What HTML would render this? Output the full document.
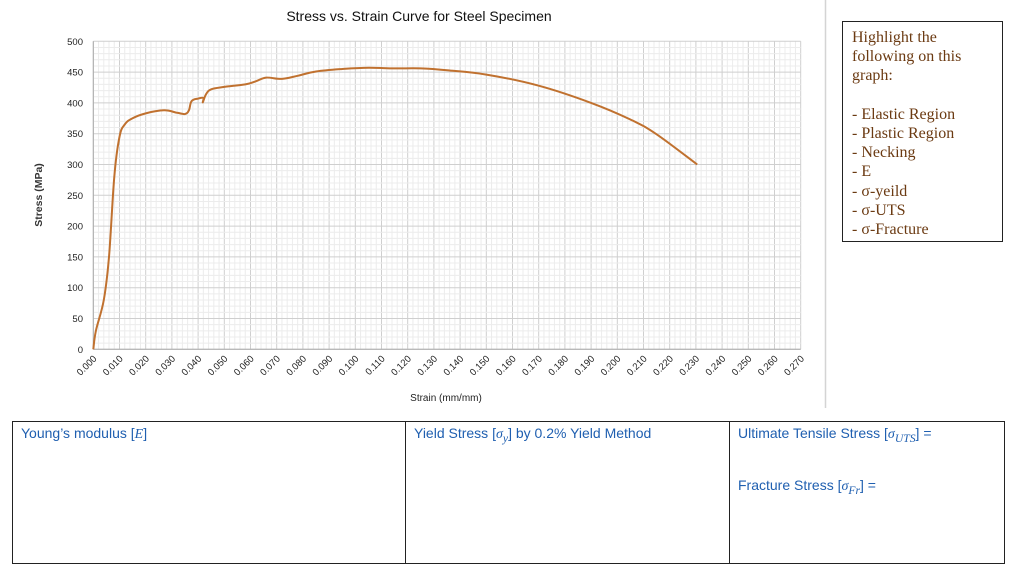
<!DOCTYPE html>
<html><head><meta charset="utf-8"><style>
body{margin:0;width:1024px;height:584px;background:#fff;overflow:hidden;position:relative;font-family:"Liberation Sans",sans-serif}
.box{position:absolute;left:842px;top:21px;width:161px;height:221px;border:1.5px solid #222;font-family:"Liberation Serif",serif;font-size:16px;line-height:19.2px;color:#6b3a12;padding:6px 0 0 9px;box-sizing:border-box}
table{position:absolute;left:12px;top:421px;width:993px;height:143px;border-collapse:collapse}
td{border:1.5px solid #222;vertical-align:top;padding:3px 8px;color:#1f5fb0;font-family:"Liberation Sans Narrow","Liberation Sans",sans-serif;font-size:14px}
i{font-family:"Liberation Serif",serif}
</style></head><body>
<svg width="1024" height="420" style="position:absolute;left:0;top:0" id="s">
<text x="419" y="21" text-anchor="middle" font-size="14" fill="#111">Stress vs. Strain Curve for Steel Specimen</text>
<line x1="825.5" y1="0" x2="825.5" y2="408" stroke="#d4d4d4" stroke-width="1.5"/>
<g id="g"></g>
<text transform="translate(42,195) rotate(-90)" text-anchor="middle" font-size="10.5" font-weight="bold" fill="#333">Stress (MPa)</text>
<text x="446" y="401" text-anchor="middle" font-size="10" fill="#222">Strain (mm/mm)</text>
</svg>
<div class="box">Highlight the<br>following on this<br>graph:<br><br>- Elastic Region<br>- Plastic Region<br>- Necking<br>- E<br>- σ-yeild<br>- σ-UTS<br>- σ-Fracture</div>
<table><tr>
<td style="width:376px">Young’s modulus [<i>E</i>]</td>
<td style="width:307px">Yield Stress [<i>σ<sub>y</sub></i>] by 0.2% Yield Method</td>
<td>Ultimate Tensile Stress [<i>σ<sub>UTS</sub></i>] =<br><br><br>Fracture Stress [<i>σ<sub>Fr</sub></i>] =</td>
</tr></table>
<script>
var x0=93.3,sx=2620,y0=349.3,sy=0.616,h='';
function X(v){return x0+v*sx}function Y(v){return y0-v*sy}
for(var i=0;i<=135;i++){var x=X(i*0.002);var maj=i%5==0;h+='<line x1="'+x+'" y1="'+Y(500)+'" x2="'+x+'" y2="'+y0+'" stroke="'+(maj?'#cfcfcf':'#ececec')+'" stroke-width="1"/>';}
for(var j=0;j<=50;j++){var y=Y(j*10);var maj=j%5==0;h+='<line x1="'+x0+'" y1="'+y+'" x2="'+X(0.27)+'" y2="'+y+'" stroke="'+(maj?'#cfcfcf':'#ececec')+'" stroke-width="1"/>';}
h+='<line x1="'+x0+'" y1="'+Y(500)+'" x2="'+x0+'" y2="'+y0+'" stroke="#aaa"/><line x1="'+x0+'" y1="'+y0+'" x2="'+X(0.27)+'" y2="'+y0+'" stroke="#aaa"/>';
for(var j=0;j<=10;j++)h+='<text x="83" y="'+(Y(j*50)+3.5)+'" text-anchor="end" font-size="9.5" fill="#222">'+(j*50)+'</text>';
for(var i=0;i<=27;i++){var x=X(i*0.01);h+='<text transform="translate('+(x+4)+','+(y0+10)+') rotate(-45)" text-anchor="end" font-size="9.5" fill="#222">'+(i*0.01).toFixed(3)+'</text>';}
var p=[[0,0],[0.001,30],[0.004,80],[0.006,150],[0.008,280],[0.010,345],[0.012,365],[0.015,375],[0.020,383],[0.027,388],[0.032,384],[0.035,382],[0.0365,388],[0.0375,403],[0.040,407],[0.042,408],[0.0418,401],[0.043,414],[0.045,422],[0.050,426],[0.058,430],[0.062,435],[0.066,441],[0.072,439],[0.078,444],[0.085,451],[0.095,455],[0.105,457],[0.115,456],[0.125,456],[0.135,453],[0.150,446],[0.170,428],[0.190,400],[0.205,373],[0.215,349],[0.2305,300]];
var q=p.map(function(a){return [X(a[0]),Y(a[1])]});
var d='M'+q[0][0].toFixed(1)+','+q[0][1].toFixed(1);
for(var k=0;k<q.length-1;k++){var a=q[k-1]||q[k],b=q[k],c=q[k+1],e=q[k+2]||c,t=0.18;
d+=' C'+(b[0]+(c[0]-a[0])*t).toFixed(1)+','+(b[1]+(c[1]-a[1])*t).toFixed(1)+' '+(c[0]-(e[0]-b[0])*t).toFixed(1)+','+(c[1]-(e[1]-b[1])*t).toFixed(1)+' '+c[0].toFixed(1)+','+c[1].toFixed(1);}
h+='<path d="'+d+'" fill="none" stroke="#c0712f" stroke-width="2" stroke-linejoin="round"/>';
document.getElementById('g').innerHTML=h;
</script>
</body></html>
